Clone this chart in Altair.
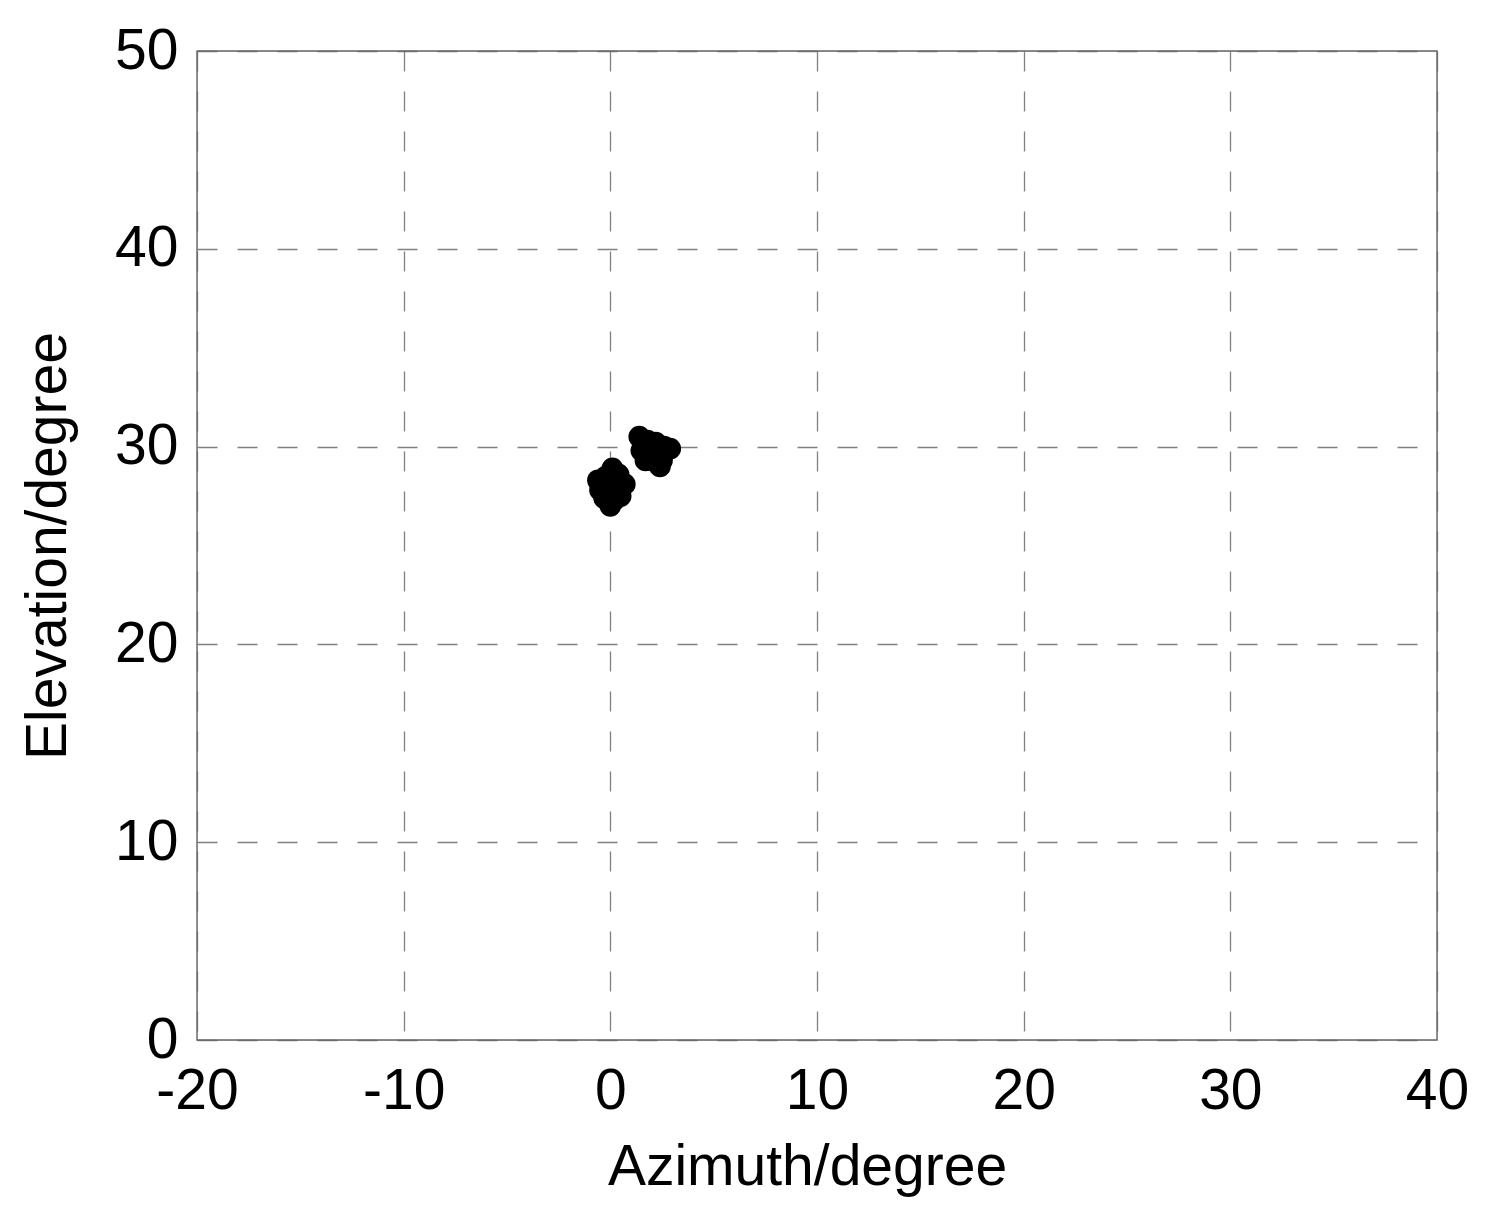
import altair as alt
import pandas as pd

# Cluster A (near azimuth 0)
az_a = [-0.6, -0.5, -0.3, 0.0, 0.2, 0.5, 0.7, 0.4, 0.1, -0.2, 0.0, 0.3, -0.3, 0.2]
el_a = [28.3, 27.8, 27.4, 27.0, 27.3, 27.5, 28.1, 28.6, 28.9, 28.5, 28.0, 27.9, 28.0, 28.3]
# Cluster B (near azimuth 2)
az_b = [1.4, 1.8, 2.2, 2.6, 2.9, 2.5, 2.4, 2.0, 1.7, 1.5, 1.9, 2.3, 1.6, 2.1]
el_b = [30.5, 30.3, 30.2, 30.0, 29.9, 29.3, 29.0, 29.3, 29.3, 29.8, 29.8, 29.7, 30.1, 29.6]

x_ticks = [-20, -10, 0, 10, 20, 30, 40]
y_ticks = [0, 10, 20, 30, 40, 50]
x_domain = [-20, 40]
y_domain = [0, 50]

df = pd.DataFrame({"az": az_a + az_b, "el": el_a + el_b})

FONT = "Liberation Sans"

common = dict(labelFontSize=57, titleFontSize=57, labelFont=FONT, titleFont=FONT,
              labelColor="black", titleColor="black", titleFontWeight="normal",
              ticks=False, tickSize=0, domain=False,
              grid=True, gridDash=[20, 20], gridColor="#808080", gridWidth=1.3,
              labelFlush=False, labelOverlap=False,
              labelExpr="toString(datum.value)")

xenc = alt.X("az:Q", title="Azimuth/degree",
             scale=alt.Scale(domain=x_domain, nice=False, zero=False),
             axis=alt.Axis(values=x_ticks, labelPadding=23, titlePadding=20,
                           titleX=610, titleAlign="center", titleAnchor="start", **common))
yenc = alt.Y("el:Q", title="Elevation/degree",
             scale=alt.Scale(domain=y_domain, nice=False, zero=False),
             axis=alt.Axis(values=y_ticks, labelPadding=19, titlePadding=37, **common))

points = alt.Chart(df).mark_circle(size=470, color="black", opacity=1).encode(x=xenc, y=yenc)

frame_df = pd.DataFrame({"x0": [x_domain[0]], "x1": [x_domain[1]],
                         "y0": [y_domain[0]], "y1": [y_domain[1]]})
frame = alt.Chart(frame_df).mark_rect(fill=None, stroke="#666666", strokeWidth=1.4).encode(
    x=alt.X("x0:Q", scale=alt.Scale(domain=x_domain, nice=False, zero=False)),
    x2="x1:Q",
    y=alt.Y("y0:Q", scale=alt.Scale(domain=y_domain, nice=False, zero=False)),
    y2="y1:Q",
)

chart = alt.layer(points, frame).properties(
    width=1240, height=989,
    autosize=alt.AutoSizeParams(type="none"),
    padding={"left": 189, "top": 43, "right": 40, "bottom": 170},
).configure_view(
    stroke=None, fill="white"
).configure(background="white")

chart.save("out.html", embed_options={"renderer": "svg", "actions": False})
